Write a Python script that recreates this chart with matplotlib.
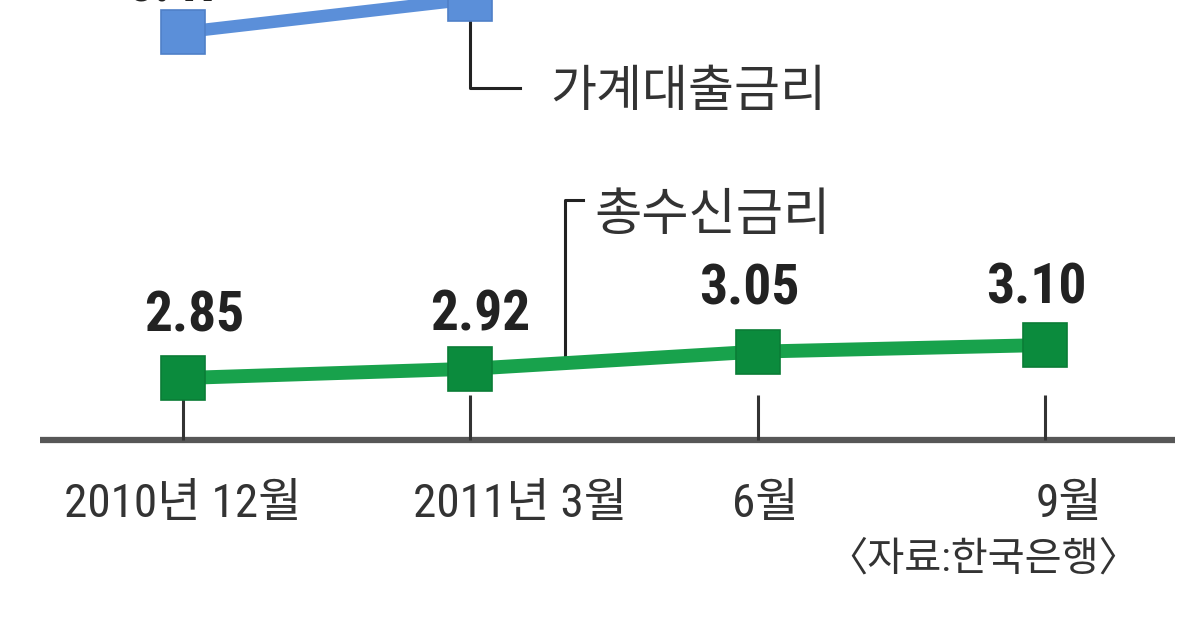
import matplotlib

matplotlib.use("Agg")

import matplotlib.pyplot as plt
import numpy as np
from matplotlib.transforms import offset_copy

# 데이터 (단위: %)
periods = ["2010년 12월", "2011년 3월", "6월", "9월"]
deposit_rate = [2.85, 2.92, 3.05, 3.10]  # 총수신금리
loan_rate = [5.47, 5.72, 5.90, 5.96]  # 가계대출금리 (위쪽이 잘려 있음)
deposit_name = "총수신금리"
loan_name = "가계대출금리"
source_text = "〈자료:한국은행〉"

fam = ["Roboto Condensed", "Noto Sans CJK KR", "DejaVu Sans"]
plt.rcParams["font.family"] = fam

blue = "#5b8fd9"
green_line = "#18a24c"
green_mark = "#0b8b3d"
ink = "#222222"
gray_text = "#333333"

fig = plt.figure(figsize=(12, 6.3), dpi=100)
ax = fig.add_axes([0, 0, 1, 1])
ax.set_xlim(-0.637, 3.540)
ax.set_ylim(0.941, 5.714)
ax.axis("off")

x = np.arange(len(periods))

# 가로축과 눈금
axis_v = 2.38
ax.axhline(axis_v, xmin=40 / 1200, xmax=1175 / 1200, color="#575757",
           lw=4.5, solid_capstyle="butt", zorder=1)
ax.vlines(x, axis_v, 2.72, color="#333333", lw=2.2, zorder=1)

# 선
ax.plot(x, loan_rate, color=blue, lw=9, marker="s", ms=31,
        mfc=blue, mec="#4f80c8", mew=1.2, zorder=3)
ax.plot(x, deposit_rate, color=green_line, lw=10, marker="s", ms=31,
        mfc=green_mark, mec="#0a7d36", mew=1.2, zorder=3)

# 값 라벨 (픽셀 단위 미세 조정)
deposit_nudge = [(11, 47), (10, 38), (-8, 47), (-8, 42)]
for xi, v, (dx, dy) in zip(x, deposit_rate, deposit_nudge):
    tr = offset_copy(ax.transData, fig=fig, x=dx, y=dy, units="dots")
    ax.text(xi, v, f"{v:.2f}", transform=tr, ha="center", va="baseline",
            fontsize=40, fontweight="bold", color=ink, zorder=4)

# 가계대출금리 첫 값만 위쪽에 조금 보임
tr = offset_copy(ax.transData, fig=fig, x=-6, y=32, units="dots")
ax.text(x[0], loan_rate[0], f"{loan_rate[0]:.2f}", transform=tr, ha="center",
        va="baseline", fontsize=40, fontweight="bold", color=ink, zorder=4)

# 가계대출금리 지시선
ax.plot([1, 1, 1.173], [loan_rate[1], 5.047, 5.047], color=ink, lw=2.2, zorder=2)
ax.text(1.277, 5.02, loan_name, ha="left", va="center", fontsize=36, color=gray_text)

# 총수신금리 지시선
x_l = 1.330
y_l = np.interp(x_l, x, deposit_rate)
ax.plot([x_l, x_l, 1.392], [y_l, 4.198, 4.198], color=ink, lw=2.2, zorder=2)
ax.text(1.433, 4.08, deposit_name, ha="left", va="center", fontsize=37, color=gray_text)

# x축 라벨
label_shift = [0, 50, 8, 24]
for xi, lab, dx in zip(x, periods, label_shift):
    tr = offset_copy(ax.transData, fig=fig, x=dx, y=0, units="dots")
    ax.text(xi, 1.895, lab, transform=tr, ha="center", va="center",
            fontsize=34, color=gray_text)

ax.text(2.785, 1.48, source_text, ha="center", va="center", fontsize=29, color=gray_text)

fig.savefig("out.png", dpi=100, facecolor="white")
plt.close(fig)
